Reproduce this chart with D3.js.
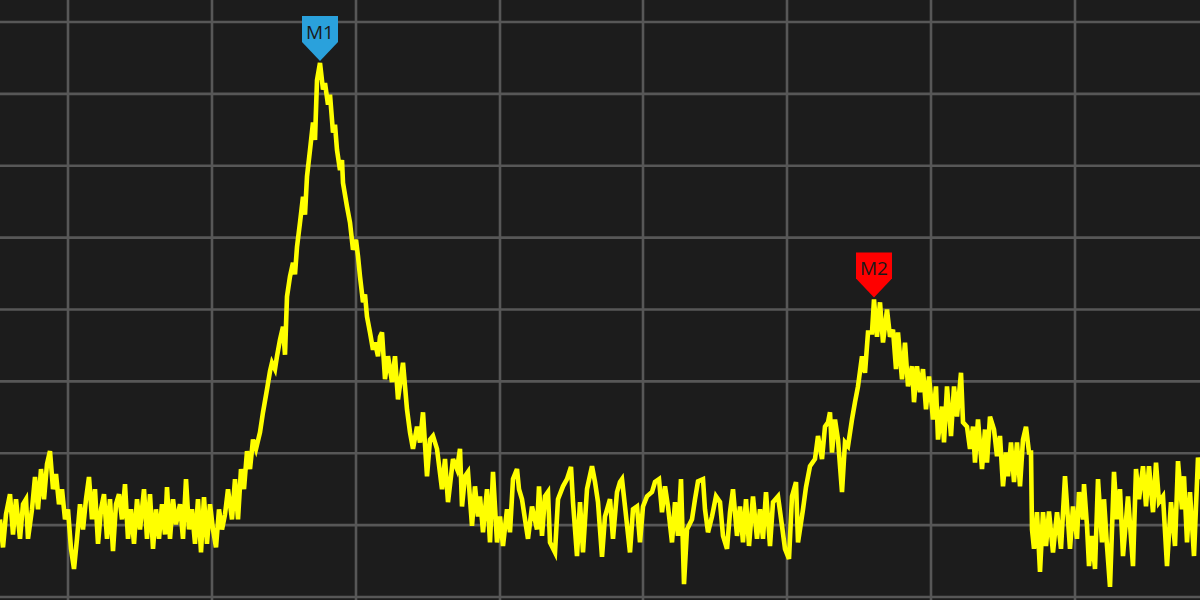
<html>
  <head>
    <meta charset="utf-8">
    <title>Spectrum trace</title>
    <script src="https://cdn.jsdelivr.net/npm/d3@7/dist/d3.min.js"></script>
    <style>
      body { margin: 0; background: #1c1c1c; }
      svg { display: block; }
    </style>
  </head>
  <body>
    <svg></svg>
    <script>
      'use strict';

      // sweep bins (0..1200) and the level in dBm at each one
      let bins = [
        // noise floor, left
        0, 3, 6, 10, 13, 16, 20, 23, 26, 28,
        32, 35, 38, 41, 44, 47, 50, 53, 56, 59,
        62, 65, 68, 71, 74, 77, 80, 83, 86, 89,
        92, 95, 98, 101, 104, 107, 110, 113, 116, 119,
        122, 125, 128, 131, 134, 137, 140, 144, 147,
        150, 153, 156, 159, 162, 165, 167, 170, 173, 176,
        180, 183, 186, 189, 192, 195, 198, 201, 204, 207,
        210, 213, 216, 219, 222, 225, 228, 232, 235, 238,
        241, 244, 247, 250, 253,
        // first carrier, rising edge
        256, 260, 263, 267, 270, 272, 275, 277, 280, 283,
        285, 287, 290, 293, 295, 297, 300, 303, 305, 307,
        310, 313, 315, 317, 320,
        // first carrier, falling edge
        323, 325, 328, 330, 333, 335, 337, 340, 342, 343,
        347, 350, 353, 356, 358, 360, 363, 365, 367, 370,
        373, 375, 378, 380, 382, 385, 388, 392, 395, 398,
        403, 407, 410, 413, 417, 420, 423, 427, 430, 433,
        437, 442, 445, 448, 453, 457, 460, 462, 465, 468,
        // noise floor, middle
        472, 475, 478, 480, 483, 487, 490, 493, 497, 500,
        503, 507, 510, 513, 517, 519, 522, 525, 528, 532,
        537, 539, 542, 545, 548, 550, 555, 558, 563, 567,
        571, 573, 577, 580, 583, 587, 592, 595, 598, 602,
        605, 610, 613, 617,
        620, 622, 625, 630, 633, 637, 640, 643, 647, 652,
        655, 659, 662, 665, 668, 672, 675, 678, 681, 684,
        687, 692, 695, 698, 703, 705, 708, 712, 716, 720,
        723, 727, 730, 733, 737, 740, 743, 746, 749, 753,
        757, 760, 763, 766, 770, 773, 778, 782, 785, 789,
        792, 796, 798, 803,
        // second carrier
        806, 810, 815, 818, 822, 825, 828, 830, 832, 835,
        838, 842, 845, 848, 852, 855, 858, 862, 865, 868,
        872, 874, 877, 880, 883, 887, 890, 893, 896, 898,
        902, 905, 908, 912, 914, 917, 920, 923, 926, 929,
        933, 936, 938,
        942, 944, 947, 951, 954, 957, 961, 963, 967, 970,
        973, 975, 978, 982, 985, 987, 990, 994, 997, 1000,
        1003, 1006, 1008, 1011, 1014, 1017, 1020, 1023, 1026, 1029,
        1031, 1032, 1034, 1037, 1040,
        // noise floor, right
        1043, 1046, 1049, 1053, 1057, 1061, 1065, 1070, 1073, 1077,
        1079, 1083, 1084, 1087, 1089, 1092, 1095, 1098, 1102, 1104,
        1107, 1110, 1114, 1117, 1120, 1123, 1128, 1133, 1136, 1139,
        1143, 1146, 1149, 1153, 1156, 1159, 1163, 1167, 1171, 1175,
        1178, 1182, 1184, 1187, 1190, 1194, 1198, 1200
      ];

      let levels = [
        -69.2, -73.1, -68.5, -65.7, -71.3, -66.4, -71.9, -67.1, -66.4, -71.9,
        -67.8, -63.3, -67.8, -62.2, -66.4, -61.5, -59.7, -65.0, -62.9, -67.1,
        -65.0, -69.2, -67.8, -73.3, -76.1, -71.9, -67.1, -70.6, -66.4, -63.3,
        -69.2, -65.0, -72.6, -67.8, -65.7, -71.9, -66.4, -73.6, -67.1, -65.7,
        -69.2, -64.3, -71.9, -67.8, -72.6, -66.4, -70.6, -65.0, -71.9,
        -65.7, -73.3, -67.8, -71.9, -67.1, -71.3, -64.7, -71.9, -66.4, -69.9,
        -67.1, -71.9, -63.6, -70.6, -67.8, -72.6, -66.4, -73.8, -66.1, -72.6,
        -67.1, -70.6, -73.1, -67.8, -70.6, -68.5, -65.0, -69.2, -63.6, -69.2,
        -62.2, -65.0, -59.7, -62.2, -58.1,

        -59.4, -57.1, -54.3, -51.1, -48.6, -47.4, -48.3, -46.5, -44.2, -42.4,
        -46.3, -38.2, -35.4, -33.5, -35.1, -31.3, -27.9, -24.3, -26.8, -21.5,
        -17.8, -14.0, -16.4, -8.1, -5.7,

        -9.4, -8.5, -11.5, -10.1, -15.4, -14.3, -17.8, -20.6, -19.2, -22.4,
        -25.7, -27.9, -31.7, -30.3, -32.6, -35.4, -39.0, -37.9, -41.0, -43.2,
        -45.6, -44.6, -46.5, -43.8, -43.2, -49.7, -46.5, -50.1, -46.5, -52.5,
        -47.4, -53.9, -57.1, -59.4, -56.3, -58.5, -54.3, -63.2, -58.1, -57.6,
        -59.4, -65.0, -60.8, -66.8, -60.8, -62.2, -59.4, -67.4, -63.2, -62.6,

        -70.1, -64.6, -68.8, -66.0, -71.0, -65.0, -72.4, -62.6, -72.4, -68.8,
        -72.9, -67.8, -71.0, -63.6, -62.2, -65.0, -66.4, -69.2, -71.9, -67.4,
        -70.6, -64.6, -71.5, -66.0, -65.4, -72.4, -73.8, -66.4, -64.6, -63.6,
        -61.9, -66.8, -74.3, -66.8, -73.8, -65.0, -61.8, -64.0, -66.8, -74.4,
        -68.8, -66.4, -71.9, -65.4,
        -64.0, -63.6, -67.4, -73.8, -67.8, -67.4, -72.4, -67.4, -66.0, -65.4,
        -64.0, -63.6, -68.2, -64.6, -67.4, -72.4, -66.8, -71.5, -63.6, -78.2,
        -70.6, -69.2, -66.4, -63.9, -63.6, -67.8, -71.0, -68.8, -66.0, -66.8,
        -71.5, -73.3, -68.2, -65.0, -71.5, -67.4, -72.4, -66.4, -72.9, -66.0,
        -71.9, -67.8, -71.9, -65.4, -72.9, -66.8, -66.0, -70.1, -73.3, -74.7,
        -66.0, -64.0, -72.4, -67.8,

        -64.7, -61.8, -60.8, -57.6, -60.8, -56.3, -55.7, -54.3, -59.9, -55.3,
        -58.1, -65.4, -58.5, -59.0, -55.3, -52.9, -50.7, -46.5, -48.8, -43.2,
        -43.2, -38.6, -43.8, -39.0, -44.6, -40.0, -43.8, -42.8, -48.3, -43.2,
        -49.7, -44.6, -50.7, -47.9, -52.9, -47.9, -51.5, -48.3, -53.9, -49.3,
        -55.3, -50.7, -58.1,
        -53.5, -58.5, -50.7, -57.6, -50.7, -54.9, -48.8, -55.7, -56.3, -59.4,
        -56.3, -61.3, -55.3, -62.2, -56.7, -61.3, -54.9, -56.7, -60.4, -57.6,
        -64.6, -59.9, -63.2, -58.5, -64.0, -58.5, -64.6, -58.1, -56.3, -59.9,
        -59.9, -70.6, -73.3, -68.2, -76.5,

        -68.2, -72.9, -68.1, -73.8, -68.2, -73.3, -63.2, -73.3, -67.4, -71.9,
        -65.4, -69.2, -64.3, -70.1, -75.7, -71.5, -76.1, -63.6, -72.4, -66.4,
        -72.9, -78.6, -62.6, -69.2, -65.0, -74.3, -66.0, -75.7, -62.2, -66.4,
        -61.8, -67.4, -61.8, -68.2, -61.3, -66.8, -66.0, -75.7, -66.8, -72.9,
        -61.1, -67.8, -63.2, -72.4, -65.4, -74.3, -60.6, -63.6
      ];

      // graticule: vertical divisions (in bins) and reference levels (dBm)
      let binTicks = [68, 212, 356, 500, 643, 787, 931, 1075];
      let levelTicks = [0, -10, -20, -30, -40, -50, -60, -70, -80];

      // peak markers: name and the bin span searched for each peak
      let markerNames = ['M1', 'M2'];
      let markerSpans = [[0, 600], [600, 1200]];
      let markerColors = ['#2aa1dc', '#ff0000'];

      window.onload = function () {
        let w = 1200;
        let h = 600;

        let svg = d3.select('svg')
          .attr('width', w)
          .attr('height', h);

        svg.append('rect')
          .attr('width', w)
          .attr('height', h)
          .attr('fill', '#1c1c1c');

        let x = d3.scaleLinear().domain([0, 1200]).range([0, w]);
        let y = d3.scaleLinear().domain([-80, 0]).range([597, 22]);

        // grid
        svg.append('g')
          .selectAll('line')
          .data(binTicks)
          .enter()
          .append('line')
          .attr('x1', d => x(d)).attr('x2', d => x(d))
          .attr('y1', 0).attr('y2', h)
          .attr('stroke', '#575757')
          .attr('stroke-width', 2.6);

        svg.append('g')
          .selectAll('line')
          .data(levelTicks)
          .enter()
          .append('line')
          .attr('x1', 0).attr('x2', w)
          .attr('y1', d => y(d)).attr('y2', d => y(d))
          .attr('stroke', '#575757')
          .attr('stroke-width', 2.6);

        // the trace
        let line = d3.line()
          .x((d, i) => x(bins[i]))
          .y(d => y(d));

        svg.append('path')
          .datum(levels)
          .attr('d', line)
          .attr('fill', 'none')
          .attr('stroke', '#ffff00')
          .attr('stroke-width', 4.6)
          .attr('stroke-linejoin', 'miter')
          .attr('stroke-miterlimit', 4);

        // markers sit on the highest point inside their span
        let markers = markerNames.map(function (name, k) {
          let span = markerSpans[k];
          let best = -1;
          bins.forEach(function (b, i) {
            if (b >= span[0] && b < span[1] && (best < 0 || levels[i] > levels[best])) {
              best = i;
            }
          });
          return { name: name, bin: bins[best], level: levels[best], color: markerColors[k] };
        });

        let mg = svg.append('g')
          .selectAll('g')
          .data(markers)
          .enter()
          .append('g')
          .attr('transform', d => 'translate(' + x(d.bin) + ',' + (y(d.level) - 2) + ')');

        mg.append('path')
          .attr('d', 'M-18,-45 L18,-45 L18,-19 L0,0 L-18,-19 Z')
          .attr('fill', d => d.color);

        mg.append('text')
          .attr('x', 0)
          .attr('y', -22)
          .attr('text-anchor', 'middle')
          .attr('font-family', "'Open Sans', 'Noto Sans', sans-serif")
          .attr('font-size', 19)
          .attr('fill', '#1a1a1a')
          .text(d => d.name);
      };
    </script>
  </body>
</html>
